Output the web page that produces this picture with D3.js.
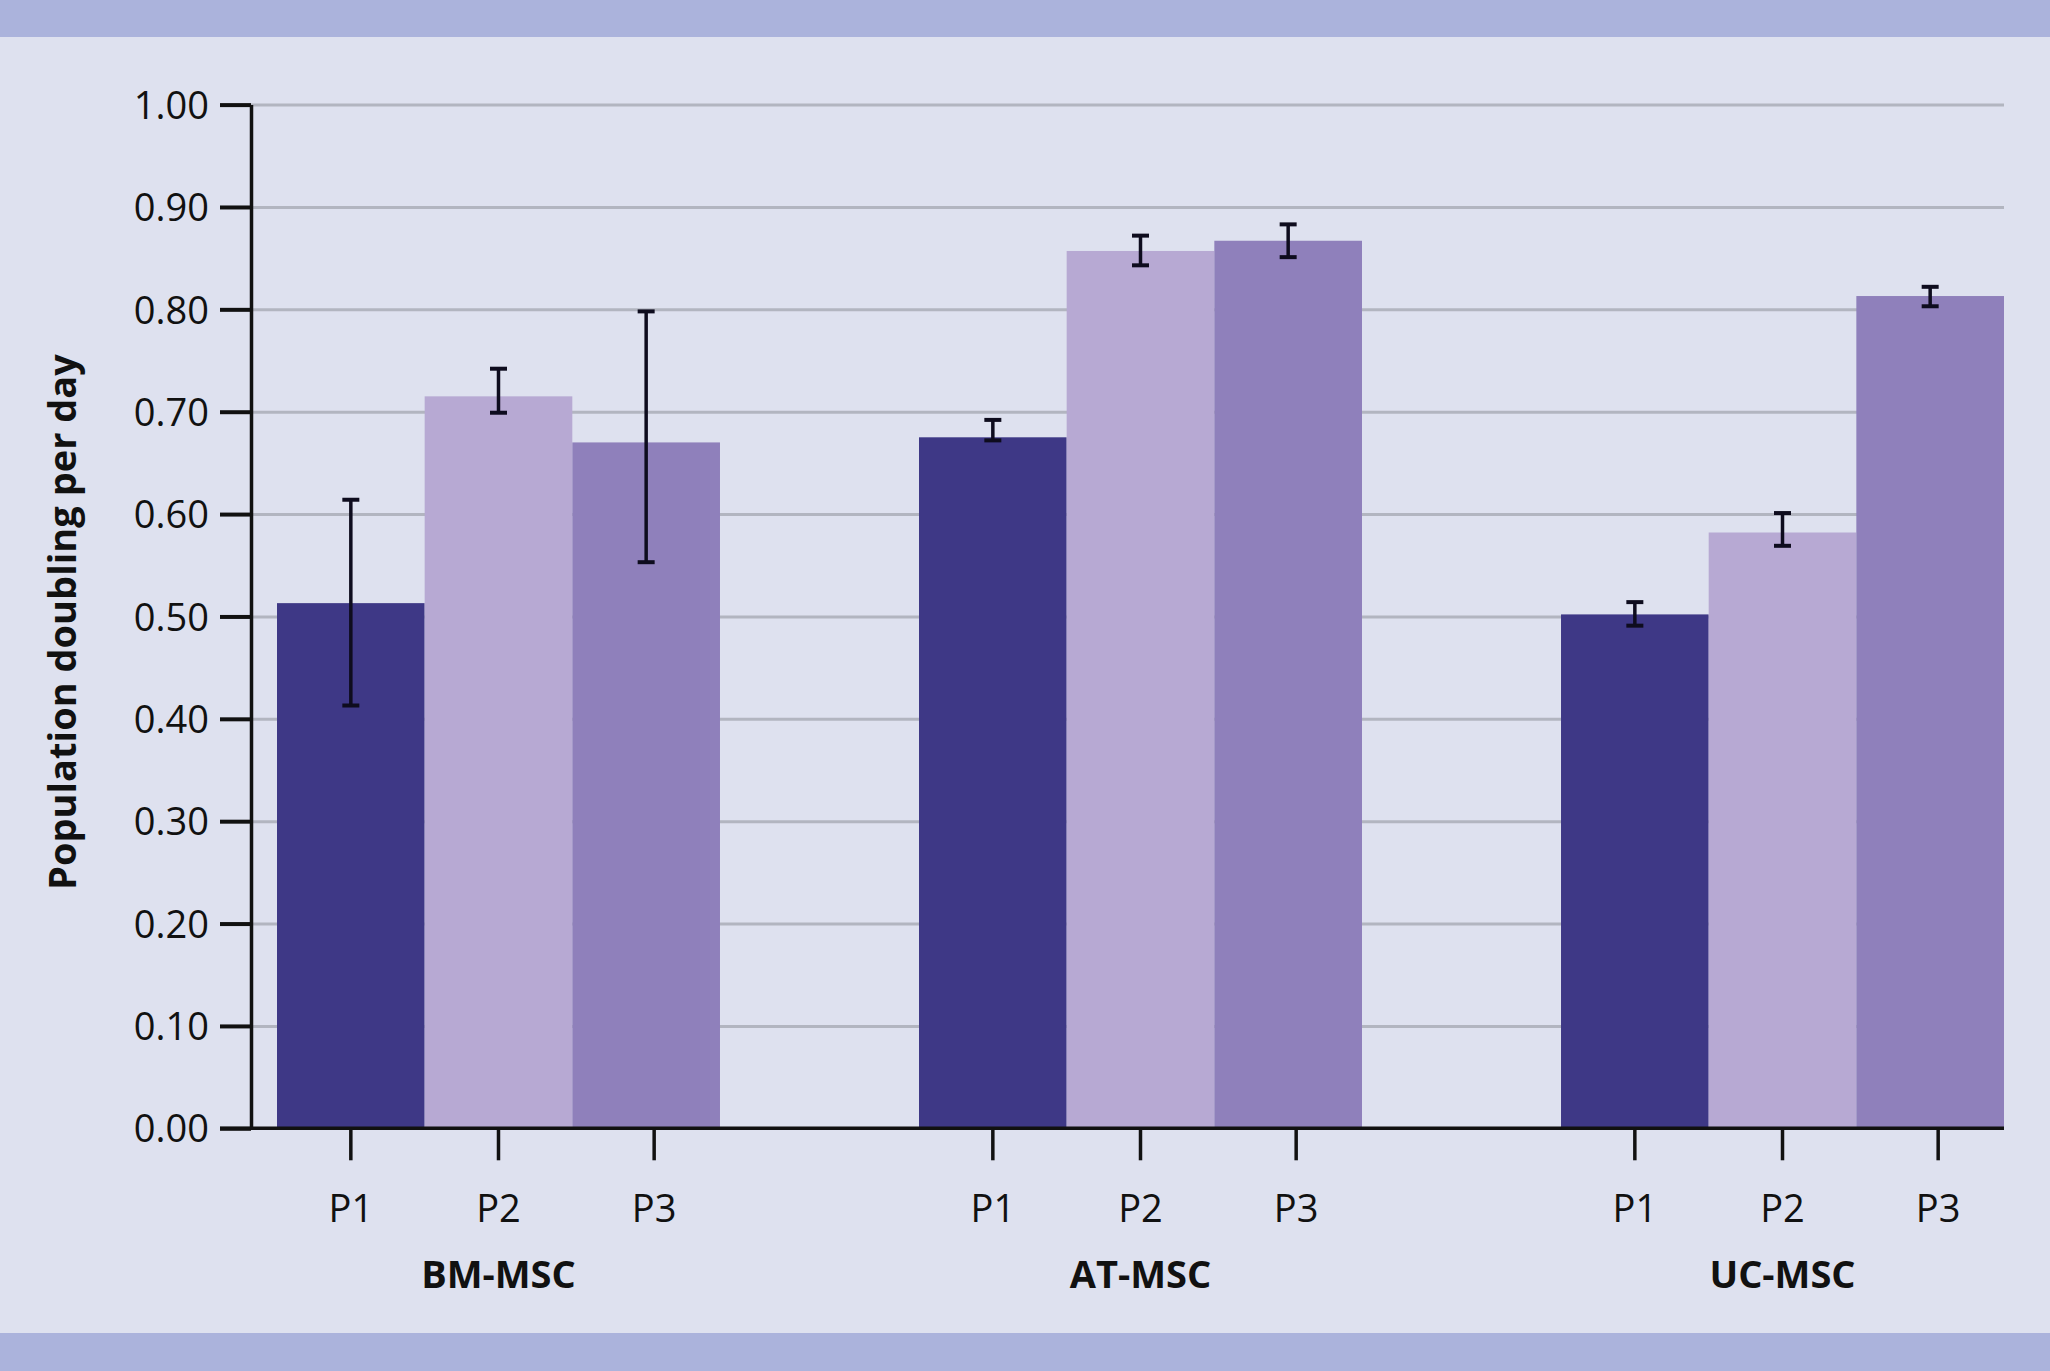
<!DOCTYPE html>
<html>
<head>
<meta charset="utf-8">
<script src="https://cdn.jsdelivr.net/npm/d3@7"></script>
<style>
  body { margin: 0; background: #dee1ef; }
  svg { display: block; font-family: "Open Sans", sans-serif; }
</style>
</head>
<body>
<svg id="chart" width="2050" height="1371"></svg>
<script>
// Cell types and passages
const groups = ["BM-MSC", "AT-MSC", "UC-MSC"];
const passages = ["P1", "P2", "P3"];

// Mean population doubling per day, one row per group (P1, P2, P3)
const means = [
    [0.513, 0.715, 0.670],
    [0.675, 0.857, 0.867],
    [0.502, 0.582, 0.813]
];
// Error bar ends
const errLow = [
    [0.413, 0.699, 0.553],
    [0.672, 0.843, 0.851],
    [0.491, 0.569, 0.803]
];
const errHigh = [
    [0.614, 0.742, 0.798],
    [0.692, 0.872, 0.883],
    [0.514, 0.601, 0.822]
];
const yTicks = [0, 0.1, 0.2, 0.3, 0.4, 0.5, 0.6, 0.7, 0.8, 0.9, 1.0];

const colors = ["#3e3886", "#b7a9d3", "#8f80bb"];

const svg = d3.select("#chart");
const W = 2050, H = 1371;
const axisX = 251, plotRight = 2004, plotTop = 104.6, plotBottom = 1128.3;

// Background and the two bands
svg.append("rect").attr("width", W).attr("height", H).attr("fill", "#dee1ef");
svg.append("rect").attr("width", W).attr("height", 37).attr("fill", "#abb3dc");
svg.append("rect").attr("y", 1333).attr("width", W).attr("height", H - 1333).attr("fill", "#abb3dc");

const y = d3.scaleLinear().domain([0, 1]).range([plotBottom, plotTop]);
const x0 = d3.scaleBand().domain(groups).range([axisX + 26, plotRight]).paddingInner(0.31).paddingOuter(0);
const x1 = d3.scaleBand().domain(passages).range([0, x0.bandwidth()]).padding(0);

// Gridlines
svg.append("g")
    .attr("transform", `translate(${axisX},0)`)
    .call(d3.axisLeft(y).tickValues(yTicks.slice(1)).tickSize(-(plotRight - axisX)).tickFormat(""))
    .call(g => g.select(".domain").remove())
    .call(g => g.selectAll(".tick line").attr("stroke", "#b2b5c0").attr("stroke-width", 3));

// Bars
const groupG = svg.append("g").selectAll("g")
    .data(groups)
    .join("g")
    .attr("transform", d => `translate(${x0(d)},0)`);

groupG.selectAll("rect")
    .data((g, gi) => passages.map((p, pi) => ({ p, pi, v: means[gi][pi] })))
    .join("rect")
    .attr("x", d => x1(d.p))
    .attr("width", x1.bandwidth())
    .attr("y", d => y(d.v))
    .attr("height", d => y(0) - y(d.v))
    .attr("fill", d => colors[d.pi]);

// Error bars
const capW = 17;
const errG = groupG.selectAll("g.err")
    .data((g, gi) => passages.map((p, pi) => ({ p, lo: errLow[gi][pi], hi: errHigh[gi][pi] })))
    .join("g")
    .attr("class", "err")
    .attr("transform", d => `translate(${x1(d.p) + x1.bandwidth() / 2},0)`)
    .attr("stroke", "#0e0c1e")
    .attr("stroke-width", 3.5);
errG.append("line").attr("y1", d => y(d.lo)).attr("y2", d => y(d.hi));
errG.append("line").attr("x1", -capW / 2).attr("x2", capW / 2).attr("y1", d => y(d.hi)).attr("y2", d => y(d.hi)).attr("stroke-width", 4);
errG.append("line").attr("x1", -capW / 2).attr("x2", capW / 2).attr("y1", d => y(d.lo)).attr("y2", d => y(d.lo)).attr("stroke-width", 4);

// Y axis
svg.append("g")
    .attr("transform", `translate(${axisX},0)`)
    .call(d3.axisLeft(y).tickValues(yTicks).tickFormat(d3.format(".2f")).tickSize(31).tickSizeOuter(0).tickPadding(11))
    .call(g => g.select(".domain").attr("stroke", "#111").attr("stroke-width", 3.5))
    .call(g => g.selectAll(".tick line").attr("stroke", "#111").attr("stroke-width", 4))
    .call(g => g.selectAll(".tick text")
        .attr("font-family", "'Open Sans', sans-serif")
        .attr("font-size", 38)
        .attr("fill", "#111")
        .attr("dy", "0.36em"));

// X axis line
svg.append("line")
    .attr("x1", axisX - 31).attr("x2", plotRight)
    .attr("y1", y(0)).attr("y2", y(0))
    .attr("stroke", "#111").attr("stroke-width", 3.5);

// Passage ticks and labels (the P3 tick sits a little right of its bar in the original)
const tickShift = [0, 0, 8];
const tickG = groupG.selectAll("g.ptick")
    .data(passages)
    .join("g")
    .attr("class", "ptick")
    .attr("transform", (p, i) => `translate(${x1(p) + x1.bandwidth() / 2 + tickShift[i]},${y(0)})`);
tickG.append("line").attr("y2", 32).attr("stroke", "#111").attr("stroke-width", 3.5);
tickG.append("text")
    .attr("y", 94)
    .attr("text-anchor", "middle")
    .attr("font-size", 38)
    .attr("fill", "#111")
    .text(d => d);

// Group labels
groupG.append("text")
    .attr("x", x0.bandwidth() / 2)
    .attr("y", 1288)
    .attr("text-anchor", "middle")
    .attr("font-size", 38)
    .attr("font-weight", 700)
    .attr("fill", "#111")
    .text(d => d);

// Y axis title
svg.append("text")
    .attr("transform", "translate(76,622) rotate(-90)")
    .attr("text-anchor", "middle")
    .attr("font-size", 38)
    .attr("font-weight", 700)
    .attr("fill", "#111")
    .text("Population doubling per day");
</script>
</body>
</html>
